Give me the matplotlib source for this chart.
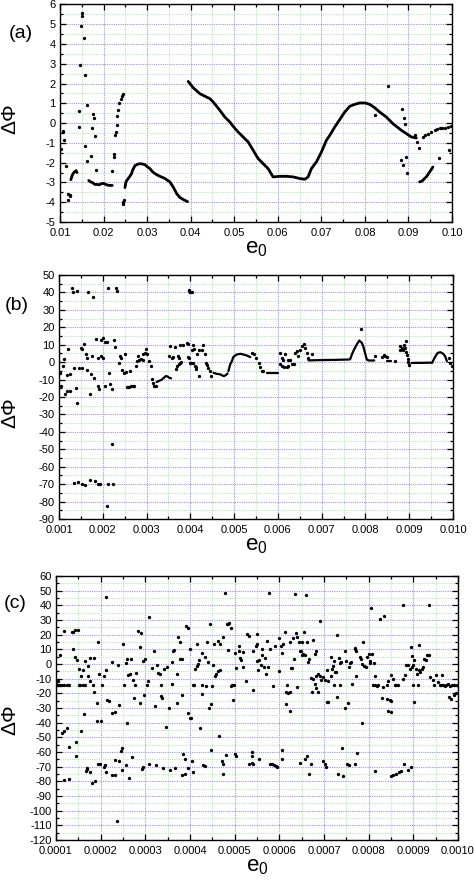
import matplotlib
matplotlib.use("Agg")
import matplotlib.pyplot as plt
from matplotlib.ticker import MultipleLocator, FormatStrFormatter

plt.rcParams['font.family'] = ['Liberation Sans', 'DejaVu Sans']
plt.rcParams['mathtext.fontset'] = 'custom'
plt.rcParams['mathtext.rm'] = 'Liberation Sans'
plt.rcParams['mathtext.it'] = 'Liberation Sans'

# ---------------- panel (a) : e0 in 0.01..0.10 ----------------
# continuous branches (dense points, drawn as thick lines)
a_seg1_e = [0.01248, 0.01265, 0.0128, 0.0131, 0.0134, 0.0137, 0.0139]
a_seg1_v = [-2.86, -2.75, -2.64, -2.52, -2.45, -2.40, -2.50]
a_seg2_e = [0.0166, 0.0170, 0.0174, 0.0180, 0.0185, 0.0190, 0.0195, 0.0200, 0.0205, 0.0210, 0.0215, 0.0220]
a_seg2_v = [-2.90, -2.97, -3.00, -3.10, -3.10, -3.12, -3.06, -3.05, -3.10, -3.14, -3.15, -3.15]
a_seg3_e = [0.02491, 0.02514, 0.0254, 0.02567, 0.0260, 0.02644, 0.02667, 0.0272, 0.0278, 0.02835,
            0.0290, 0.0295, 0.0300, 0.03064, 0.0312, 0.03179, 0.0324, 0.03294, 0.0335, 0.03408,
            0.0346, 0.03523, 0.0356, 0.03599, 0.0364, 0.03676, 0.03752, 0.03828, 0.03928]
a_seg3_v = [-3.26, -2.97, -2.88, -2.80, -2.70, -2.55, -2.38, -2.15, -2.08, -2.05,
            -2.07, -2.10, -2.20, -2.30, -2.45, -2.55, -2.63, -2.69, -2.74, -2.80,
            -2.88, -2.97, -3.10, -3.23, -3.40, -3.56, -3.76, -3.86, -3.97]
a_seg4_e = [0.03943, 0.04058, 0.04211, 0.04364, 0.0444, 0.04517, 0.0467, 0.04784, 0.04899, 0.04976,
            0.0509, 0.05205, 0.0532, 0.05434, 0.05549, 0.05664, 0.05778, 0.05893, 0.06046, 0.06199,
            0.06352, 0.06505, 0.06619, 0.06696, 0.06772, 0.06887, 0.07002, 0.07116, 0.07193, 0.07307,
            0.07422, 0.07537, 0.07651, 0.07766, 0.07881, 0.08011, 0.0811, 0.08225, 0.0834, 0.08492,
            0.08645, 0.08836, 0.08952, 0.09067, 0.09181]
a_seg4_v = [2.11, 1.79, 1.49, 1.32, 1.24, 1.07, 0.65, 0.31, 0.06, -0.16,
            -0.45, -0.70, -0.95, -1.37, -1.79, -2.05, -2.30, -2.72, -2.69, -2.69,
            -2.72, -2.80, -2.84, -2.72, -2.30, -1.96, -1.46, -0.87, -0.62, -0.20,
            0.18, 0.56, 0.85, 0.95, 1.02, 1.02, 0.95, 0.78, 0.56, 0.31,
            -0.03, -0.36, -0.53, -0.70, -0.75]
a_seg5_e = [0.09257, 0.09295, 0.09333, 0.0937, 0.0941, 0.09448, 0.09486, 0.09524, 0.09562]
a_seg5_v = [-2.97, -2.95, -2.89, -2.80, -2.72, -2.60, -2.47, -2.35, -2.22]
# scattered points
a_dot_e = [0.01016, 0.01062, 0.0107, 0.01099, 0.01138, 0.01176, 0.0119, 0.01229, 0.0122,
           0.01512, 0.01512, 0.01474, 0.01543, 0.01459, 0.01573, 0.01612, 0.01428, 0.01443, 0.01581, 0.01627,
           0.0175, 0.0178, 0.01742, 0.01803, 0.01719, 0.01818,
           0.0220, 0.0223, 0.02235, 0.02261, 0.02277, 0.0230, 0.02315, 0.02338, 0.0236, 0.02392, 0.02415, 0.02438,
           0.02438, 0.0246, 0.0245,
           0.0824, 0.0853,
           0.08852, 0.08898, 0.08913, 0.08837, 0.08875, 0.08952, 0.08975, 0.09142, 0.09204, 0.09234,
           0.09333, 0.0939, 0.09448, 0.0952, 0.09601, 0.0966, 0.09716, 0.0977, 0.0983, 0.0990, 0.09983,
           0.09693, 0.09922]
a_dot_v = [-1.32, -0.45, -0.42, -0.87, -2.18, -3.56, -3.90, -3.61, -3.70,
           5.58, 5.44, 4.89, 4.33, 2.95, 2.41, 0.92, 0.60, -0.20, -1.15, -1.93,
           0.48, 0.28, -0.25, -0.65, -1.64, -2.35,
           -2.42, -1.71, -1.54, -0.62, -0.45, -0.11, 0.34, 0.65, 1.02, 1.24, 1.35, 1.45,
           -4.10, -3.90, -4.00,
           0.41, 1.86,
           0.71, 0.28, -0.03, -1.88, -2.10, -1.71, -2.54, -0.62, -0.95, -1.26,
           -0.70, -0.62, -0.53, -0.45, -0.36, -0.30, -0.25, -0.24, -0.23, -0.20, -0.16,
           -1.74, -1.34]

# ---------------- panel (b) : e0 in 0.001..0.010 ----------------
b_seg_e = [
    [0.00323, 0.00328, 0.00334, 0.00339, 0.00344, 0.00348, 0.00352, 0.00356],
    [0.00453, 0.0046, 0.00468, 0.00476, 0.00481, 0.00485],
    [0.00487, 0.00491, 0.00495, 0.00498, 0.00506, 0.00514, 0.00521, 0.00529, 0.00537],
    [0.00575, 0.0058, 0.0059, 0.00601],
    [0.0067, 0.0070, 0.0073, 0.0076, 0.00765, 0.00769, 0.00774, 0.0078, 0.00786, 0.00792,
     0.00796, 0.0080, 0.00803, 0.00807, 0.00815, 0.0082],
    [0.0085, 0.00853, 0.00858],
    [0.00905, 0.00914, 0.0093, 0.00945, 0.00952, 0.00956, 0.0096, 0.00965, 0.00971, 0.00977,
     0.00982, 0.00986],
]
b_seg_v = [
    [-11.4, -10.8, -10.2, -9.1, -8.0, -8.2, -9.0, -9.3],
    [-6.1, -6.7, -7.0, -8.0, -7.5, -6.5],
    [-5.1, -1.3, 0.6, 2.9, 4.4, 4.8, 4.4, 3.8, 2.9],
    [-6.1, -6.1, -6.1, -6.1],
    [1.0, 1.2, 1.3, 1.5, 1.6, 4.4, 7.2, 10.1, 12.4, 11.0,
     8.2, 4.4, 1.5, 1.0, 0.9, 1.0],
    [0.5, 0.5, 0.5],
    [-0.5, -0.4, -0.4, -0.3, -0.4, 1.5, 3.4, 5.3, 5.7, 4.9,
     3.4, 0.6],
]
b_dot_e = [0.00129, 0.00131, 0.00142, 0.00167, 0.00178, 0.00211, 0.0023, 0.00233, 0.00396, 0.0040, 0.00403, 0.00398,
           0.00134, 0.00144, 0.00152, 0.00159, 0.00171, 0.00182, 0.0019, 0.00194, 0.00213, 0.00224, 0.00209, 0.0022,
           0.00102, 0.00108, 0.00112, 0.00121, 0.00105, 0.00118, 0.00114, 0.00125, 0.00119, 0.00124, 0.00135, 0.00138,
           0.0014, 0.00146, 0.00152, 0.0015, 0.00153, 0.00158, 0.00161, 0.00165, 0.00163, 0.0017, 0.00173, 0.00176,
           0.00181, 0.00184, 0.00188, 0.00188, 0.00192, 0.00197, 0.0020, 0.00196, 0.00201, 0.00204, 0.00209, 0.00205,
           0.00217, 0.00215, 0.00222, 0.00225, 0.00229, 0.00236, 0.0024, 0.00242, 0.00245, 0.00249, 0.00251, 0.00253,
           0.00255, 0.00258, 0.0026, 0.00262, 0.00265, 0.00268, 0.00271, 0.00275, 0.00278, 0.00281, 0.00283, 0.00287,
           0.00291, 0.00293, 0.00296, 0.00299, 0.00302, 0.00306, 0.0031, 0.00312, 0.00314, 0.00317, 0.00321,
           0.00352, 0.00354, 0.00357, 0.00361, 0.00365, 0.00367, 0.0037, 0.00373, 0.00376, 0.00379, 0.00372, 0.00374,
           0.00376, 0.00384, 0.00392, 0.00394, 0.00395, 0.00398, 0.0040, 0.00402, 0.00403, 0.00405, 0.00406, 0.0041,
           0.00412, 0.00414, 0.00408, 0.00415, 0.00419, 0.00419, 0.0043, 0.00426, 0.00434, 0.00436, 0.00437, 0.00441,
           0.00445, 0.00447,
           0.00541, 0.00546, 0.0055, 0.00556, 0.0056, 0.00563, 0.00567,
           0.00605, 0.00609, 0.00605, 0.00609, 0.00613, 0.0062, 0.00624, 0.00612, 0.00622, 0.00617, 0.00628, 0.00632,
           0.00636, 0.0064, 0.00643, 0.00647, 0.00651, 0.00655, 0.00659, 0.00662, 0.00666, 0.00668, 0.00679,
           0.0079, 0.00822, 0.00838, 0.00842, 0.00845, 0.00849, 0.00868,
           0.00878, 0.0088, 0.00883, 0.00886, 0.00889, 0.00891, 0.00893, 0.00893, 0.00895, 0.00897, 0.00898, 0.009,
           0.0099, 0.00994, 0.00998]
b_dot_v = [42.4, 40.1, 41.1, 40.5, 37.6, 42.8, 42.4, 41.1, 41.1, 40.5, 40.1, 41.5,
           -69.4, -68.8, -69.8, -70.7, -67.9, -68.3, -69.8, -69.8, -69.8, -69.8, -82.7, -47.0,
           -6.1, -2.3, 1.9, 7.6, -13.7, -16.5, -18.4, -16.5, -7.6, -7.0, -3.2, -14.6,
           -23.6, -3.2, -3.2, 8.2, 7.6, 10.5, 4.4, 2.5, -4.6, -18.4, -7.0, 3.4,
           -8.9, 13.3, -13.7, 2.5, -15.6, 12.9, 13.7, 3.8, 2.5, 11.4, 11.4, -13.7,
           -12.7, -6.1, -15.6, 12.9, 8.7, -0.4, 3.4, 2.5, -4.6, -6.5, 4.9, -5.7,
           -14.0, -14.0, -14.0, -5.1, -13.7, -13.7, -13.7, -2.3, 0.6, 3.4, 1.5, 1.9,
           1.5, 4.4, 5.3, 7.6, 4.4, 0.6, -2.3, -9.9, -12.2, -13.7, -13.7,
           3.4, 9.1, 2.5, 2.9, 8.7, -3.8, -2.0, -1.2, -0.4, 0.2, 3.4, 2.5,
           10.1, 10.1, 11.0, 10.6, 3.0, 2.6, -0.4, -0.6, 6.8, 10.1, -0.4, -2.5,
           -3.0, -4.2, 7.6, 4.4, -8.0, 7.2, 10.1, 7.2, 4.4, -0.6, -1.5, -3.2,
           -5.1, -8.0,
           5.3, 4.4, 2.5, -0.4, -2.9, -4.8, -5.1,
           5.3, 2.5, -1.1, -2.0, -2.9, -2.9, -2.0, 1.0, 1.0, 4.4, 1.5, -1.3,
           -1.3, 5.3, 6.3, 3.4, 7.2, 9.1, 10.5, 8.2, 5.3, 2.5, 4.8,
           19.2, 3.4, 3.0, 4.0, 3.6, 3.0, 0.6,
           9.1, 7.2, 8.0, 7.2, 10.0, 8.0, 12.0, 6.0, 4.0, 2.0, 0.0, -1.5,
           2.5, -0.4, -2.3]

# ---------------- panel (c) : e0 in 0.0001..0.0010 (e in units of 1e-4) ----------------
c_pts = [
    (1.01, -13.5), (1.03, -14), (1.06, -14), (1.09, -14), (1.13, -14), (1.19, -14), (1.24, -14), (1.28, -14),
    (1.05, -11.3), (1.09, 6.3), (1.19, 22.7), (1.14, -47), (1.18, -46), (1.24, -43.7), (1.19, -79), (1.28, -78.6),
    (1.29, -56.8), (1.35, 22.1), (1.39, 21.6), (1.43, 23.2), (1.5, 23.2), (1.39, 10.4), (1.43, 4.7), (1.45, -53.2),
    (1.45, -62.8), (1.48, 2.5), (1.52, -3.6), (1.54, -14.4), (1.55, -46), (1.57, -8.1), (1.61, -4.3), (1.63, -34.2),
    (1.65, 1.8), (1.67, -73), (1.7, -71.8), (1.72, -1.6), (1.72, -8.1), (1.76, -11.7), (1.76, -73.4), (1.8, -80.9),
    (1.82, -14), (1.85, 4), (1.86, -18.9), (1.91, -26.8), (1.87, -79.7), (1.91, -38.7), (1.93, 14.9), (1.97, -6.5),
    (1.98, -68), (2.0, -39.2), (1.6, -14), (1.66, -14), (1.77, 4.0), (1.52, -14),
    (2.11, 45.5), (2.02, -14), (2.08, -8), (2.12, -4.3), (2.15, -24.5), (2.18, -25.2), (2.26, 1.4), (2.25, -33.6),
    (2.32, -32.4), (2.38, -0.5), (2.4, -27.9), (2.5, 13.3), (2.52, -14), (2.57, 1.0), (2.6, 3.6), (2.68, 3.6),
    (2.62, -7.7), (2.66, -6.5), (2.6, -40.5), (2.73, -10.6), (2.74, -23.4), (2.77, -14), (2.8, -5.9), (2.84, 22.7),
    (2.9, 21), (2.88, 11.9), (2.95, 2), (2.99, 3.2), (2.88, -26.4), (2.98, -21.2), (3.03, -14), (3.07, -11.7),
    (3.09, 31.8), (3.14, -2.5), (3.19, 9.2), (3.21, -28.6), (3.25, -0.9), (3.29, -5.9), (3.33, -6.5), (3.35, -14.4),
    (3.36, -21.6), (3.38, -23), (3.42, -3.6), (3.46, -43), (3.48, -2), (3.53, -30.2), (3.59, -13.3), (3.6, 1.4),
    (3.63, 9.2), (3.65, 9.7), (3.7, -6.5), (3.71, -26.8), (3.74, 18.2), (3.77, 15.3), (3.77, 3.6), (3.81, 3.6),
    (3.81, -21.2), (3.92, 25.7), (3.96, 24.3), (3.99, 10.4), (3.96, -33.6), (4.02, -37), (4.04, -66.2),
    (1.69, -71), (1.95, -68), (2.1, -69), (2.32, -65.5), (2.42, -66), (2.45, -59.5), (2.47, -57.2), (2.57, -69),
    (2.7, -63.5), (2.92, -71.4), (2.95, -70), (3.09, -68.5), (3.23, -69), (3.4, -71), (3.55, -72), (3.66, -70.7),
    (3.85, -61.7), (3.89, -65), (3.96, -70.7),
    (2.36, -107), (2.08, -70), (2.13, -73.6), (2.25, -76), (2.32, -75.7), (2.47, -72.5), (2.64, -77.5),
    (3.89, -75.2), (3.83, -75.5), (4.07, -73.4), (4.74, -74.8), (6.67, -74.8), (7.31, -75.2), (7.43, -76.4),
    (8.14, -73), (8.5, -76.4), (8.55, -75.8), (8.62, -74.7), (8.68, -73.5), (8.73, -73.2),
    (4.78, 48.6), (5.77, 48.2), (6.35, 47.5), (6.59, 47), (4.45, 27.3), (4.83, 27.5), (4.86, 27.5), (4.88, 27.8),
    (4.92, 24.5), (6.91, 29.5),
    (4.15, 13.7), (4.39, 14.9), (4.54, 13.3), (4.62, 15.8), (4.68, 13.3), (4.74, 18.2), (4.86, 9.7), (5.0, 7.7),
    (5.1, 12), (5.1, 9.2), (5.19, 8.1), (5.28, 20.5), (5.31, 18.9), (5.41, 9.2), (5.47, 12.6), (5.49, 13.7),
    (5.51, 20.5), (5.62, 10.4), (5.73, 16), (5.79, 10.4), (5.9, 12.6), (5.99, 17.6), (6.03, 12.2), (6.07, 7.7),
    (6.12, 22), (6.09, 13.7), (6.23, 15.3), (6.31, 17.6), (6.37, 21), (6.4, 18.2), (6.44, 14.9), (6.51, 15.3),
    (6.56, 22), (6.61, 14.9), (6.76, 16.7), (6.46, 9.2), (6.5, 6.3), (6.54, 7), (6.57, 6.3), (6.67, 3.2),
    (6.65, 1.4), (6.79, 7), (6.83, 9.2),
    (4.18, 0.2), (4.2, 2.5), (4.16, -1.4), (4.12, -3.6), (4.27, 7.7), (4.33, 4.7), (4.41, 1.4), (4.52, -0.5),
    (4.63, -5), (4.67, -4.3), (4.59, -6.5), (4.57, -8.1), (5.04, -2.7), (5.15, 2.5), (5.13, 4), (5.19, -2),
    (5.25, -11.7), (5.49, 2), (5.55, 2.5), (5.53, -4.3), (5.59, -0.5), (5.62, 6.3), (5.65, -2), (5.69, 4),
    (5.74, -2), (5.71, -6.5), (5.86, -14.9), (6.0, -5), (6.18, -14), (6.15, -19), (6.19, -20), (6.24, -19),
    (6.16, -27.5), (6.24, -32), (6.27, -2.7), (6.29, -2.7), (6.33, 3.6), (6.4, -15.5), (6.48, 9.2), (6.7, -9.5),
    (6.76, -10), (6.8, -13.3), (6.83, -16.7), (6.81, -8), (6.87, -7), (6.9, -8), (6.94, -11), (6.98, -9.2),
    (7.03, -10.8), (7.06, -4.3), (6.87, -19), (6.73, -19.4), (7.07, -26),
    (4.0, -37), (4.07, -14), (4.1, -14), (4.27, -14), (4.35, -15), (4.49, -15), (4.26, -20.7), (4.42, -29.7),
    (4.47, -27.5), (4.66, -48.9), (4.22, -43.7), (4.47, -58.3), (4.8, -62), (4.91, -15), (4.95, -14), (4.98, -14.2),
    (4.97, -24.5), (5.0, -61.5), (5.04, -62.8), (5.4, -17.8), (5.38, -60), (5.38, -63), (4.71, -66), (4.73, -68),
    (5.32, -68), (5.38, -67.5), (5.41, -68), (5.55, -64.6), (5.8, -68.5), (5.83, -68), (5.89, -69), (5.93, -69.5),
    (5.95, -70), (6.05, -65), (4.3, -69), (4.33, -69.5), (6.05, -58.3), (6.46, -67.3), (6.57, -65), (6.63, -62.4),
    (6.7, -68), (6.98, -66), (7.02, -68), (7.05, -70),
    (8.05, 38.5), (8.76, 40.1), (9.34, 40.3), (8.25, 30.6), (8.35, 32.4), (7.28, 19.8), (7.87, 14.9), (7.47, 9.2),
    (7.69, 10.4), (7.72, 9.2), (7.7, 11), (7.5, 1.8), (7.58, 0.7), (7.6, 1.4), (7.55, -2),
    (7.8, 5), (7.82, 3.2), (7.86, 0), (7.9, -1.1), (7.93, -2.2), (7.97, 5), (8.0, 7), (8.02, 2), (8.03, 0.7),
    (8.07, 6.8), (8.11, 0.7), (7.15, 5), (7.2, -1.4), (7.18, -3.6), (7.22, 2), (7.33, 3.8), (7.35, 1), (7.38, 1.5),
    (7.1, -11.5), (7.15, -8.5), (7.24, -5.2), (7.27, -5.6), (7.22, -14), (7.35, -14), (7.63, -13.3), (7.71, -8.1),
    (8.14, -8.1), (8.1, -14), (8.15, -14), (8.19, -14.9), (8.21, -14), (8.32, -15.8), (8.4, -14), (8.43, -11.3),
    (8.51, -7.7), (8.55, -10.4), (8.58, -14), (8.62, -14), (8.66, -14),
    (8.29, -23), (8.4, -23.8), (8.47, -24.5), (8.51, -25), (8.44, -32), (8.51, -32.4),
    (7.28, -22.7), (7.08, -26.1), (7.47, -29.7), (7.54, -26.8), (7.84, -40.3), (7.4, -57.2), (7.74, -61),
    (7.52, -68), (7.56, -69), (7.69, -68), (8.8, -68), (8.88, -72), (8.95, -70),
    (8.77, -10.4), (8.81, -7.7), (8.83, -0.9), (8.88, -0.5), (8.92, -3.6), (8.96, -2), (9.0, -0.9), (9.02, 2.9),
    (9.05, -3.6), (8.94, 11.9), (8.97, 5.4), (9.12, 13.1), (9.09, -6.5), (9.12, -4.3), (9.16, -5.4), (9.19, -3.2),
    (9.21, -2), (9.25, 3.2), (9.29, 2.5), (9.31, 6.3), (9.36, 6.3),
    (9.01, -25.7), (8.99, -14), (9.1, -14),
    (9.38, -9), (9.43, -11), (9.47, -14), (9.51, -7.2), (9.55, -12), (9.59, -14), (9.63, -14), (9.67, -14),
    (9.7, -15), (9.74, -14), (9.78, -13.3), (9.81, -15), (9.86, -14), (9.9, -14), (9.97, -14), (9.64, -7.2),
    (9.79, -22.5), (9.85, -23.6), (9.9, -21), (9.95, -19.8), (9.91, -14),
]
c_e = [p[0] * 1e-4 for p in c_pts]
c_v = [p[1] for p in c_pts]

W, H = 474, 880
fig = plt.figure(figsize=(W / 100, H / 100), dpi=100)


def px_axes(l, t, r, b):
    return fig.add_axes([l / W, 1 - b / H, (r - l) / W, (b - t) / H])


def style(ax, xlim, ylim, xmaj, xmin, ymaj, ymin, xfmt):
    ax.set_xlim(*xlim)
    ax.set_ylim(*ylim)
    ax.xaxis.set_major_locator(MultipleLocator(xmaj))
    ax.xaxis.set_minor_locator(MultipleLocator(xmin))
    ax.yaxis.set_major_locator(MultipleLocator(ymaj))
    ax.yaxis.set_minor_locator(MultipleLocator(ymin))
    ax.xaxis.set_major_formatter(FormatStrFormatter(xfmt))
    ax.yaxis.set_major_formatter(FormatStrFormatter('%d'))
    ax.grid(which='major', color='#9a9ad8', linestyle=(0, (1, 1)), linewidth=0.8)
    ax.grid(which='minor', color='#bfe6bf', linestyle=(0, (1, 1)), linewidth=0.8)
    ax.set_axisbelow(True)
    ax.tick_params(which='both', direction='in', top=True, right=True, labelsize=8, width=0.9)
    ax.tick_params(axis='x', which='both', pad=4.5)
    ax.tick_params(axis='y', which='both', pad=3)
    ax.tick_params(which='major', length=4.5)
    ax.tick_params(which='minor', length=2.5)
    for s in ax.spines.values():
        s.set_linewidth(1.0)
    ax.set_xlabel(r'$\mathregular{e_0}$', fontsize=16, labelpad=0)


dot = dict(linestyle='none', marker='o', markersize=2.4, color='black', markeredgewidth=0)

# (a)
ax1 = px_axes(60, 4.5, 452, 222)
for e, v in [(a_seg1_e, a_seg1_v), (a_seg2_e, a_seg2_v), (a_seg3_e, a_seg3_v),
             (a_seg4_e, a_seg4_v), (a_seg5_e, a_seg5_v)]:
    ax1.plot(e, v, color='black', linewidth=2.0, solid_capstyle='round')
ax1.plot(a_dot_e, a_dot_v, **dot)
style(ax1, (0.01, 0.10), (-5, 6), 0.01, 0.005, 1, 0.5, '%.2f')

# (b)
ax2 = px_axes(59, 275, 453, 519)
for e, v in zip(b_seg_e, b_seg_v):
    ax2.plot(e, v, color='black', linewidth=1.6, solid_capstyle='round')
ax2.plot(b_dot_e, b_dot_v, **dot)
style(ax2, (0.001, 0.010), (-90, 50), 0.001, 0.0005, 10, 5, '%.3f')

# (c)
ax3 = px_axes(56, 576, 458, 840)
ax3.plot(c_e, c_v, **dot)
style(ax3, (0.0001, 0.0010), (-120, 60), 0.0001, 0.00005, 10, 5, '%.4f')

for ax, lab, ly, lx, lyy in [(ax1, '(a)', 119, 21, 33), (ax2, '(b)', 413, 17, 306), (ax3, '(c)', 720, 15, 603)]:
    fig.text(10 / W, 1 - ly / H, r'$\mathregular{\Delta\Phi}$', rotation=90, fontsize=15,
             ha='center', va='center')
    fig.text(lx / W, 1 - lyy / H, lab, fontsize=14, ha='center', va='center')
    ax.set_ylabel('')

fig.savefig('out.png', dpi=100)
